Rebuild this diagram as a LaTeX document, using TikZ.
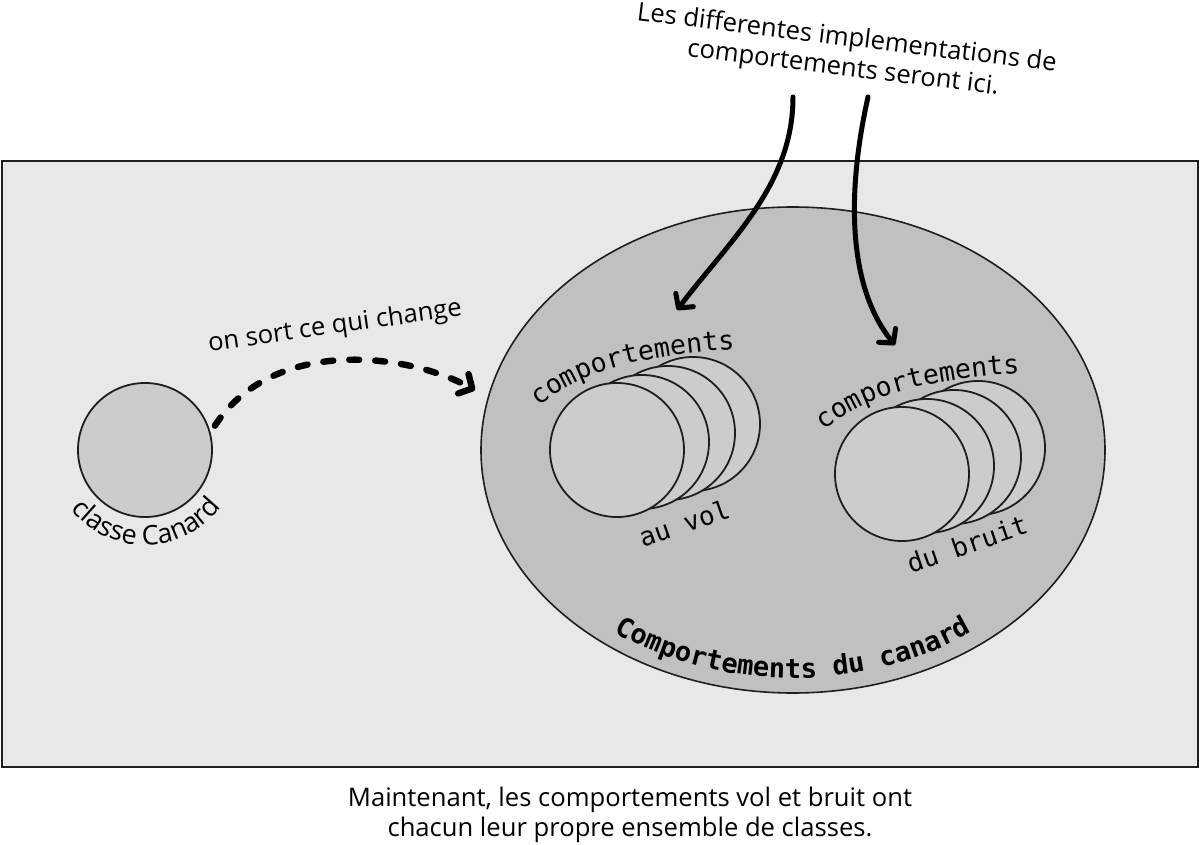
\documentclass[tikz,border=0pt]{standalone}
\usepackage{fontspec}
\setmonofont{DejaVu Sans Mono}
\newfontfamily\handfont{Open Sans}
\usetikzlibrary{shapes.geometric,arrows.meta,decorations.text}
\definecolor{fondgris}{HTML}{E8E8E8}
\definecolor{ovalgris}{HTML}{C0C0C0}
\definecolor{disquegris}{HTML}{CCCCCC}
\definecolor{trait}{HTML}{1E1E1E}

\begin{document}
\begin{tikzpicture}[x=0.5pt,y=-0.5pt,
  disque/.style={circle,draw=trait,line width=0.9pt,fill=disquegris,minimum size=67pt,inner sep=0pt},
  main/.style={font=\handfont\fontsize{12.8}{15}\selectfont},
  mono/.style={font=\ttfamily\fontsize{13}{15}\selectfont},
  fleche/.style={line width=2.5pt,line cap=round,-{Straight Barb[round,length=5pt,width=11pt]}},
  pointille/.style={line width=3.2pt,line cap=round,dash pattern=on 5pt off 8pt,-{Straight Barb[round,length=5pt,width=11pt]}},
]
\useasboundingbox (0,0) rectangle (1200,845);

\node(cadre) at (600,464) [draw=trait,line width=1.2pt,fill=fondgris,minimum width=598pt,minimum height=303pt,inner sep=0pt] {};
\node(ovale) at (793,450) [ellipse,draw=trait,line width=0.8pt,fill=ovalgris,minimum width=312pt,minimum height=243pt,inner sep=0pt] {};
\node(canard) at (145,450) [disque] {};

\node(vol4) at (693,424) [disque] {};
\node(vol3) at (668,433) [disque] {};
\node(vol2) at (642,442) [disque] {};
\node(vol1) at (617,450) [disque] {};

\node(bruit4) at (978,448) [disque] {};
\node(bruit3) at (954,457) [disque] {};
\node(bruit2) at (927,466) [disque] {};
\node(bruit1) at (902,474) [disque] {};

\path[decorate,decoration={text along path,text align=center,text={|\handfont\fontsize{13.5}{15}\selectfont|classe Canard}}]
  ([shift={(155:95)}]canard.center) arc[start angle=155,end angle=23,radius=95];
\path[decorate,decoration={text along path,text align=center,text={|\ttfamily\fontsize{13.3}{15}\selectfont|comportements}}]
  (525,417) .. controls (572,376) and (622,355) .. (752,348);
\path[decorate,decoration={text along path,text align=center,text={|\ttfamily\fontsize{13.3}{15}\selectfont|comportements}}]
  (810,441) .. controls (857,400) and (907,379) .. (1037,372);
\path[decorate,decoration={text along path,text align=center,text={|\ttfamily\bfseries\fontsize{13.5}{16}\selectfont|Comportements du canard}}]
  ([shift={(138:297 and 228)}]ovale.center) arc[start angle=138,end angle=42,x radius=297,y radius=228];

\node(auvol) at (684,523) [mono,rotate=19] {au vol};
\node(dubruit) at (967,544) [mono,rotate=19] {du bruit};

\node(sortie) at (335,327) [main,rotate=8] {on sort ce qui change};
\coordinate(versovale) at (475,390);
\draw[pointille,shorten <=4pt] (canard.15) .. controls (270,340) and (400,350) .. (versovale);

\node(note) at (845,54) [main,align=center,rotate=-7] {Les differentes implementations de\\comportements seront ici.};
\coordinate(depvol) at (793,97);
\coordinate(depbruit) at (868,97);
\coordinate(finvol) at (677,310);
\coordinate(finbruit) at (895,345);
\draw[fleche] (depvol) .. controls (793,185) and (730,240) .. (finvol);
\draw[fleche] (depbruit) .. controls (845,200) and (850,290) .. (finbruit);

\node(legende) at (630,815) [main,align=center] {Maintenant, les comportements vol et bruit ont\\chacun leur propre ensemble de classes.};

\end{tikzpicture}
\end{document}
